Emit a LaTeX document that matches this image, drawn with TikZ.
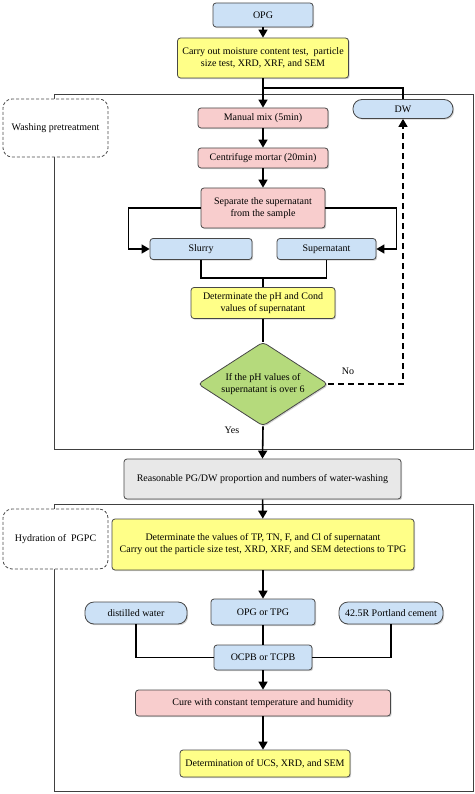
\documentclass[tikz,border=0pt]{standalone}
\usepackage{fontspec}
\setmainfont{Liberation Serif}
\usetikzlibrary{arrows.meta, positioning, shapes.geometric, shadows}

\definecolor{boxblue}{HTML}{CCE1F6}
\definecolor{boxpink}{HTML}{F8CDCD}
\definecolor{boxyellow}{HTML}{FFFF88}
\definecolor{boxgreen}{HTML}{B5DA7C}
\definecolor{boxgray}{HTML}{E8E8E8}
\definecolor{edgegray}{HTML}{474747}

\begin{document}
\begin{tikzpicture}[
  x=1pt, y=-1pt,
  every node/.style={align=center, font=\fontsize{10}{12}\selectfont},
  box/.style={rectangle, rounded corners=3pt, draw=edgegray, thick, inner sep=2pt,
    drop shadow={shadow xshift=1.2pt, shadow yshift=-1.2pt, opacity=0.35}},
  pill/.style={box, rounded corners=9pt},
  tag/.style={rectangle, rounded corners=9pt, draw=black!70, thick, dash pattern=on 3pt off 2pt,
    fill=white, minimum width=105, minimum height=58},
  frame/.style={draw=black!75, thick},
  arrow/.style={-{Triangle[length=8pt,width=9pt]}, line width=1.6pt},
  link/.style={line width=1.6pt},
  noarrow/.style={-{Triangle[length=8pt,width=9pt]}, line width=1.6pt, dash pattern=on 6pt off 4pt}
]
\useasboundingbox (0,0) rectangle (474,794);

% Frames of the two stages
\draw[frame] (54,94) rectangle (473,449);
\draw[frame] (54,504) rectangle (473,791);

% Stage labels
\node (washing) [tag] at (55.5,128) {Washing pretreatment};
\node (hydration) [tag, minimum height=60] at (55.5,539) {Hydration of ~PGPC};

% Raw material and tests
\node (opg) [box, fill=boxblue, minimum width=100, minimum height=24] at (263,15) {OPG};
\node (test) [box, fill=boxyellow, minimum width=171, minimum height=40] at (263,58)
  {Carry out moisture content test, ~particle\\size test, XRD, XRF, and SEM};

% Washing pretreatment
\node (dw) [pill, fill=boxblue, minimum width=100, minimum height=19] at (403,109) {DW};
\node (mix) [box, fill=boxpink, minimum width=130, minimum height=20] at (263,118) {Manual mix (5min)};
\node (centri) [box, fill=boxpink, minimum width=130, minimum height=20] at (263,158) {Centrifuge mortar (20min)};
\node (sep) [box, fill=boxpink, minimum width=124, minimum height=40] at (263,208)
  {Separate the supernatant\\from the sample};
\node (slurry) [box, fill=boxblue, minimum width=102, minimum height=21] at (201,249) {Slurry};
\node (super) [box, fill=boxblue, minimum width=99, minimum height=21] at (326.5,249) {Supernatant};
\node (ph) [box, fill=boxyellow, minimum width=144, minimum height=31] at (263,303)
  {Determinate the pH and Cond\\values of supernatant};
\node (check) [diamond, aspect=1.55, fill=boxgreen, draw=edgegray, thick, rounded corners=4pt,
  minimum width=130, minimum height=84, inner sep=0pt,
  drop shadow={shadow xshift=1.2pt, shadow yshift=-1.2pt, opacity=0.35}] at (263,384)
  {If the pH values of\\supernatant is over 6};
\node (no) at (348,371) {No};
\node (yes) at (232,430) {Yes};

\node (ratio) [box, fill=boxgray, minimum width=277, minimum height=40] at (262.5,479)
  {Reasonable PG/DW proportion and numbers of water-washing};

% Hydration of PGPC
\node (detect) [box, fill=boxyellow, minimum width=302, minimum height=51] at (263,544.5)
  {Determinate the values of TP, TN, F, and Cl of supernatant\\
   Carry out the particle size test, XRD, XRF, and SEM detections to TPG};
\node (water) [pill, fill=boxblue, minimum width=102, minimum height=22] at (136,613) {distilled water};
\node (tpg) [box, fill=boxblue, minimum width=104, minimum height=26] at (263,612) {OPG or TPG};
\node (cement) [pill, fill=boxblue, minimum width=104, minimum height=22] at (391,613) {42.5R Portland cement};
\node (ocpb) [box, fill=boxblue, minimum width=98, minimum height=25] at (263,657.5) {OCPB or TCPB};
\node (cure) [box, fill=boxpink, minimum width=255, minimum height=26] at (263,703)
  {Cure with constant temperature and humidity};
\node (ucs) [box, fill=boxyellow, minimum width=170, minimum height=27] at (265,763.5)
  {Determination of UCS, XRD, and SEM};

% Connectors
\coordinate (split) at (263,88);
\coordinate (join) at (263,278);
\draw[arrow] (opg) -- (test);
\draw[link] (test.south) -- (split) -| (dw.north);
\draw[arrow] (split) -- (mix.north);
\draw[arrow] (mix) -- (centri);
\draw[arrow] (centri) -- (sep);
\draw[arrow] (sep.west) -| ([xshift=-21pt]slurry.west) -- (slurry.west);
\draw[arrow] (sep.east) -| ([xshift=20pt]super.east) -- (super.east);
\draw[link] (slurry.south) |- (join) -| (super.south);
\draw[link] (join) -- (ph.north);
\draw[link] (ph) -- (check);
\draw[noarrow] (check.east) -| (dw.south);
\draw[arrow] (check.south) -- (ratio.north);
\draw[arrow] (ratio) -- (detect);
\draw[arrow] (detect) -- (tpg);
\draw[link] (water.south) |- (ocpb.west);
\draw[link] (cement.south) |- (ocpb.east);
\draw[link] (tpg) -- (ocpb);
\draw[arrow] (ocpb) -- (cure);
\draw[arrow] (cure.south) -- ([xshift=-2pt]ucs.north);

\end{tikzpicture}
\end{document}
